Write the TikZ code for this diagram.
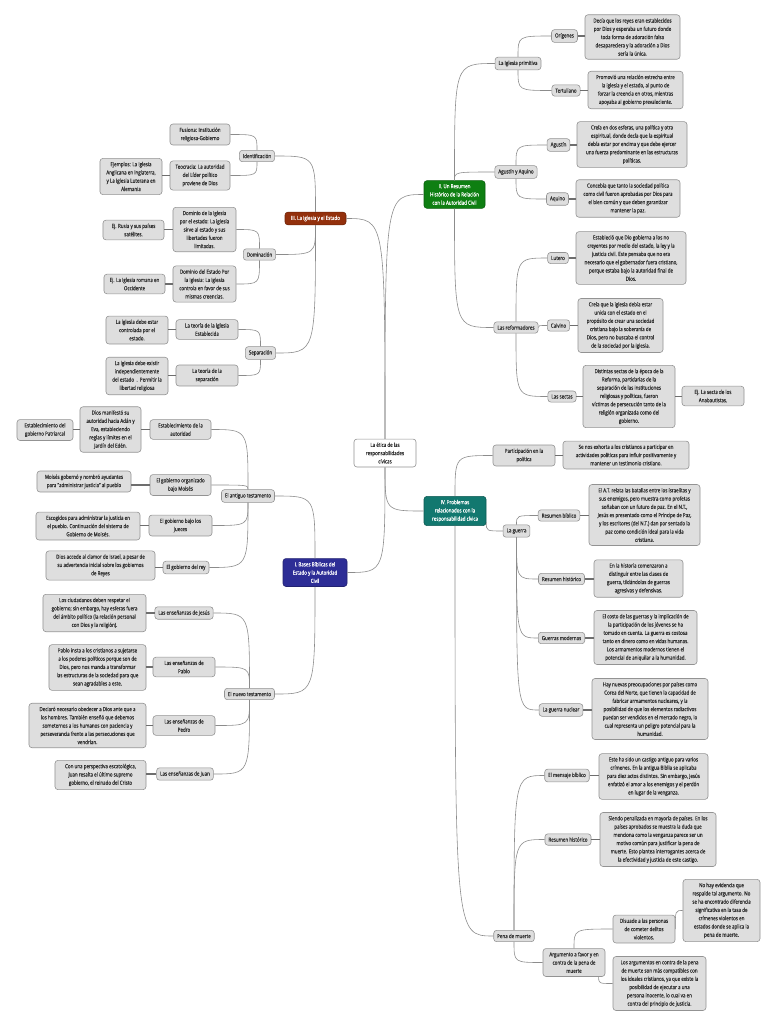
\documentclass[tikz,border=0pt]{standalone}
\usepackage{fontspec}
\setmainfont{Open Sans}[FakeStretch=0.8, FakeBold=0.35]
\usepackage{tikz}
\usepackage{xcolor}

\definecolor{cajafondo}{HTML}{DEDEDE}
\definecolor{cajaborde}{HTML}{939393}
\definecolor{texto}{HTML}{303030}
\definecolor{linea}{HTML}{8C8C8C}
\definecolor{lineahoja}{HTML}{6E6E6E}
\definecolor{secI}{HTML}{2D2D96}
\definecolor{secII}{HTML}{0E7F12}
\definecolor{secIII}{HTML}{93300C}
\definecolor{secIV}{HTML}{12786F}

\begin{document}
\begin{tikzpicture}[x=0.03cm, y=-0.03cm,
  caja/.style={draw=cajaborde, fill=cajafondo, rounded corners=2.5pt, align=center,
    text=texto, inner xsep=3pt, inner ysep=3pt, line width=0.5pt,
    font=\fontsize{4.8}{7.05}\selectfont},
  titulo/.style={caja, fill=#1, draw=#1!75!black, text=white},
  raizbox/.style={caja, fill=white},
  ancho/.style={minimum width=#1*0.8536pt},
  enlace/.style={draw=linea, line width=0.5pt},
  hoja/.style={draw=lineahoja, line width=1.2pt}]
  \fill[white] (0,0) rectangle (768,1024);
  \useasboundingbox (0,0) rectangle (768,1024);

  % centro
  \node[raizbox, ancho=62] (raiz) at (385,453) {La ética de las\\responsabilidades\\cívicas};

  % III. La Iglesia y el Estado
  \node[titulo=secIII, ancho=61] (III) at (315.5,218.5) {III. La Iglesia y el Estado};
  \node[caja] (ident) at (257,156) {Identificación};
  \node[caja, ancho=60] (fusiona) at (200,134.5) {Fusiona: Institución\\religiosa-Gobierno};
  \node[caja, ancho=60] (teocracia) at (200,175.5) {Teocracia: La autoridad\\del Líder político\\proviene de Dios};
  \node[caja, ancho=62] (ejemplos) at (131,176.5) {Ejemplos: La Iglesia\\Anglicana en Inglaterra,\\y La Iglesia Luterana en\\Alemania};
  \node[caja] (domin) at (259.5,254.5) {Dominación};
  \node[caja, ancho=63] (domig) at (204.5,229.5) {Dominio de la Iglesia\\por el estado: La iglesia\\sirve al estado y sus\\libertades fueron\\limitadas.};
  \node[caja, ancho=61] (rusia) at (133.5,230) {Ej. Rusia y sus países\\satélites.};
  \node[caja, ancho=63] (domest) at (204.5,284) {Dominio del Estado Por\\la Iglesia: La iglesia\\controla en favor de sus\\mismas creencias.};
  \node[caja, ancho=61] (romana) at (134.5,284) {Ej. La Iglesia romana en\\Occidente};
  \node[caja] (separ) at (260.5,353) {Separación};
  \node[caja, ancho=62] (establecida) at (207,329.5) {La teoría de la Iglesia\\Establecida};
  \node[caja, ancho=62] (controlada) at (137,330) {La iglesia debe estar\\controlada por el\\estado.};
  \node[caja, ancho=62] (teosep) at (207,375.5) {La teoría de la\\separación};
  \node[caja, ancho=62] (existir) at (137,376) {La iglesia debe existir\\independientemente\\del estado\ \ .\ \ Permitir la\\libertad religiosa};

  % I. Bases Biblicas
  \node[titulo=secI, ancho=64] (I) at (315,572.5) {I. Bases Bíblicas del\\Estado y la Autoridad\\Civil};
  \node[caja] (antiguo) at (248,496) {El antiguo testamento};
  \node[caja, ancho=61] (estab) at (180.5,429.5) {Establecimiento de la\\autoridad};
  \node[caja, ancho=61] (adan) at (110.5,429.5) {Dios manifestó su\\autoridad hacia Adán y\\Eva, estableciendo\\reglas y límites en el\\Jardín del Edén.};
  \node[caja, ancho=56] (patriarcal) at (45,430) {Establecimiento del\\gobierno Patriarcal};
  \node[caja, ancho=61] (organizado) at (180.5,485) {El gobierno organizado\\bajo Moisés};
  \node[caja, ancho=94] (moises) at (84,481.5) {Moisés gobernó y nombró ayudantes\\para "administrar justicia" al pueblo};
  \node[caja, ancho=63] (jueces) at (180.5,525.5) {El gobierno bajo los\\jueces};
  \node[caja, ancho=104] (escogidos) at (88,526) {Escogidos para administrar la justicia en\\el pueblo. Continuación del sistema de\\Gobierno de Moisés.};
  \node[caja] (rey) at (186,567.5) {El gobierno del rey};
  \node[caja, ancho=109] (israel) at (100.5,565.5) {Dios accede al clamor de Israel, a pesar de\\su advertencia inicial sobre los gobiernos\\de Reyes};
  \node[caja] (nuevo) at (249.5,694) {El nuevo testamento};
  \node[caja] (jesus) at (184,613) {Las enseñanzas de Jesús};
  \node[caja, ancho=103] (ciudadanos) at (94.5,613) {Los ciudadanos deben respetar el\\gobierno; sin embargo, hay esferas fuera\\del ámbito político (la relación personal\\con Dios y la religión).};
  \node[caja, ancho=62] (pablo) at (184,667) {Las enseñanzas de\\Pablo};
  \node[caja, ancho=97] (pabloT) at (97.5,667.5) {Pablo insta a los cristianos a sujetarse\\a los poderes políticos porque son de\\Dios, pero nos manda a transformar\\las estructuras de la sociedad para que\\sean agradables a este.};
  \node[caja, ancho=62] (pedro) at (184,725.5) {Las enseñanzas de\\Pedro};
  \node[caja, ancho=117] (pedroT) at (87.5,725.5) {Declaró necesario obedecer a Dios ante que a\\los hombres. También enseñó que debemos\\someternos a los humanos con paciencia y\\perseverancia frente a las persecuciones que\\vendrían.};
  \node[caja] (juan) at (185,774) {Las enseñanzas de Juan};
  \node[caja, ancho=91] (juanT) at (100.5,775) {Con una perspectiva escatológica,\\Juan resalta el último supremo\\gobierno, el reinado del Cristo};

  % II. Resumen historico
  \node[titulo=secII, ancho=61] (II) at (454.5,194.5) {II. Un Resumen\\Histórico de la Relación\\con la Autoridad Civil};
  \node[caja] (primitiva) at (518,63.5) {La Iglesia primitiva};
  \node[caja] (origenes) at (564.5,36) {Orígenes};
  \node[caja, ancho=95] (origT) at (632.5,37) {Decía que los reyes eran establecidos\\por Dios y esperaba un futuro donde\\toda forma de adoración falsa\\desapareciera y la adoración a Dios\\sería la única.};
  \node[caja] (tertuliano) at (566,90.5) {Tertuliano};
  \node[caja, ancho=95] (tertT) at (635.5,90) {Promovió una relación estrecha entre\\la iglesia y el estado, al punto de\\forzar la creencia en otros, mientras\\apoyaba al gobierno prevaleciente.};
  \node[caja] (agaq) at (516,172) {Agustín y Aquino};
  \node[caja] (agustin) at (558.5,145) {Agustín};
  \node[caja, ancho=110] (agusT) at (632,144.5) {Creía en dos esferas, una política y otra\\espiritual, donde decía que la espiritual\\debía estar por encima y que debe ejercer\\una fuerza predominante en las estructuras\\políticas.};
  \node[caja] (aquino) at (557.5,199) {Aquino};
  \node[caja, ancho=104] (aquiT) at (628,198.5) {Concebía que tanto la sociedad política\\como civil fueron aprobadas por Dios para\\el bien común y que deben garantizar\\mantener la paz.};
  \node[caja] (reform) at (516,327.5) {Las reformadores};
  \node[caja] (lutero) at (558,258) {Lutero};
  \node[caja, ancho=110] (lutT) at (631,258) {Estableció que Dio gobierna a los no\\creyentes por medio del estado, la ley y la\\justicia civil. Este pensaba que no era\\necesario que el gobernador fuera cristiano,\\porque estaba bajo la autoridad final de\\Dios.};
  \node[caja] (calvino) at (558.5,325.5) {Calvino};
  \node[caja, ancho=85] (calT) at (620.5,325.5) {Creía que la iglesia debía estar\\unida con el estado en el\\propósito de crear una sociedad\\cristiana bajo la soberanía de\\Dios, pero no buscaba el control\\de la sociedad por la iglesia.};
  \node[caja] (sectas) at (562,396.5) {Las sectas};
  \node[caja, ancho=92] (sectT) at (629,396.5) {Distintas sectas de la época de la\\Reforma, partidarias de la\\separación de las instituciones\\religiosas y políticas, fueron\\víctimas de persecución tanto de la\\religión organizada como del\\gobierno.};
  \node[caja, ancho=62] (anabap) at (713,396) {Ej. La secta de los\\Anabautistas.};

  % IV. Problemas
  \node[titulo=secIV, ancho=62] (IV) at (455,511) {IV. Problemas\\relacionados con la\\responsabilidad cívica};
  \node[caja, ancho=62] (particip) at (524,455.5) {Participación en la\\política};
  \node[caja, ancho=126] (partT) at (626,455) {Se nos exhorta a los cristianos a participar en\\actividades políticas para influir positivamente y\\mantener un testimonio cristiano.};
  \node[caja] (guerra) at (516.5,531) {La guerra};
  \node[caja] (rbib) at (559,515.5) {Resumen bíblico};
  \node[caja, ancho=111] (rbibT) at (644.5,515) {El A.T. relata las batallas entre los israelitas y\\sus enemigos, pero muestra como profetas\\soñaban con un futuro de paz. En el N.T.,\\Jesús es presentado como el Príncipe de Paz,\\y los escritores (del N.T.) dan por sentado la\\paz como condición ideal para la vida\\cristiana.};
  \node[caja] (rhis) at (561.5,579) {Resumen histórico};
  \node[caja, ancho=89] (rhisT) at (638.5,578.5) {En la historia comenzaron a\\distinguir entre las clases de\\guerra, tildándolas de guerras\\agresivas y defensivas.};
  \node[caja] (moder) at (561.5,638) {Guerras modernas};
  \node[caja, ancho=103] (moderT) at (645.5,637.5) {El costo de las guerras y la implicación de\\la participación de los jóvenes se ha\\tomado en cuenta. La guerra es costosa\\tanto en dinero como en vidas humanas.\\Los armamentos modernos tienen el\\potencial de aniquilar a la humanidad.};
  \node[caja] (nuclear) at (561,710) {La guerra nuclear};
  \node[caja, ancho=116] (nuclT) at (650,709) {Hay nuevas preocupaciones por países como\\Corea del Norte, que tienen la capacidad de\\fabricar armamentos nucleares, y la\\posibilidad de que los elementos radiactivos\\puedan ser vendidos en el mercado negro, lo\\cual representa un peligro potencial para la\\humanidad.};
  \node[caja] (pena) at (514,936) {Pena de muerte};
  \node[caja] (mbib) at (567,775.5) {El mensaje bíblico};
  \node[caja, ancho=109] (mbibT) at (653.5,776.5) {Este ha sido un castigo antiguo para varios\\crímenes. En la antigua Biblia se aplicaba\\para diez actos distintos. Sin embargo, Jesús\\enfatizó el amor a los enemigos y el perdón\\en lugar de la venganza.};
  \node[caja] (rhis2) at (568,839.5) {Resumen histórico};
  \node[caja, ancho=116] (rhis2T) at (658,839.5) {Siendo penalizada en mayoría de países. En los\\países aprobados se muestra la duda que\\menciona como la venganza parece ser un\\motivo común para justificar la pena de\\muerte. Esto plantea interrogantes acerca de\\la efectividad y justicia de este castigo.};
  \node[caja, ancho=62] (argum) at (574,962.5) {Argumento a favor y en\\contra de la pena de\\muerte};
  \node[caja, ancho=62] (disuade) at (644,929) {Disuade a las personas\\de cometer delitos\\violentos.};
  \node[caja, ancho=77] (evid) at (721.5,910.5) {No hay evidencia que\\respalde tal argumento. No\\se ha encontrado diferencia\\significativa en la tasa de\\crímenes violentos en\\estados donde se aplica la\\pena de muerte.};
  \node[caja, ancho=93] (contra) at (659.5,983.5) {Los argumentos en contra de la pena\\de muerte son más compatibles con\\los ideales cristianos, ya que existe la\\posibilidad de ejecutar a una\\persona inocente, lo cual va en\\contra del principio de justicia.};

  % ramas curvas: padre/ancla -> hijo/ancla
  \foreach \p/\a/\c/\b in {raiz/north/III/east,raiz/north/II/west,raiz/south/I/east,raiz/south/IV/west,
      III/north/ident/east,III/south/domin/east,III/south/separ/east,
      ident/north/fusiona/east,ident/south/teocracia/east,
      domin/north/domig/east,domin/south/domest/east,
      separ/north/establecida/east,separ/south/teosep/east,
      I/north/antiguo/east,I/south/nuevo/east,
      antiguo/north/estab/east,antiguo/north/organizado/east,antiguo/south/jueces/east,antiguo/south/rey/east,
      nuevo/north/jesus/east,nuevo/north/pablo/east,nuevo/south/pedro/east,nuevo/south/juan/east,
      II/north/primitiva/west,II/north/agaq/west,II/south/reform/west,
      primitiva/north/origenes/west,primitiva/south/tertuliano/west,
      agaq/north/agustin/west,agaq/south/aquino/west,
      reform/north/lutero/west,reform/east/calvino/west,reform/south/sectas/west,
      IV/north/particip/west,IV/-20/guerra/west,IV/south/pena/west,
      guerra/north/rbib/west,guerra/south/rhis/west,guerra/south/moder/west,guerra/south/nuclear/west,
      pena/north/mbib/west,pena/north/rhis2/west,pena/south/argum/west,
      argum/north/disuade/west,argum/-30/contra/west,disuade/east/evid/west} {
    \draw[enlace] (\p.\a) .. controls (\p.\a |- \c.\b) .. (\c.\b);
  }

  % hojas a la izquierda
  \foreach \a/\b in {teocracia/ejemplos,domig/rusia,domest/romana,establecida/controlada,teosep/existir,
      estab/adan,adan/patriarcal,organizado/moises,jueces/escogidos,rey/israel,
      jesus/ciudadanos,pablo/pabloT,pedro/pedroT,juan/juanT} {
    \draw[hoja] (\a.west) -- (\a.west -| \b.east);
  }
  % hojas a la derecha
  \foreach \a/\b in {origenes/origT,tertuliano/tertT,agustin/agusT,aquino/aquiT,lutero/lutT,
      calvino/calT,sectas/sectT,sectT/anabap,particip/partT,rbib/rbibT,rhis/rhisT,
      moder/moderT,nuclear/nuclT,mbib/mbibT,rhis2/rhis2T} {
    \draw[hoja] (\a.east) -- (\a.east -| \b.west);
  }
\end{tikzpicture}
\end{document}
